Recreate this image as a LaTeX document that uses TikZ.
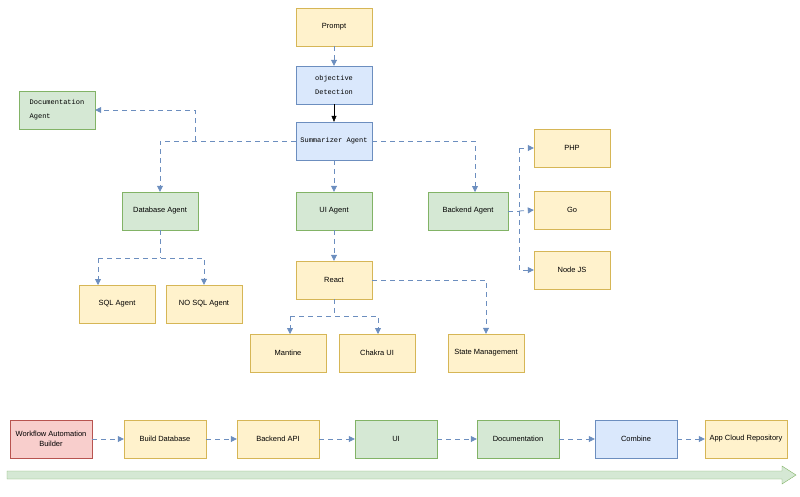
\documentclass[tikz,border=0pt]{standalone}
\usepackage{fontspec}
\setmainfont{Liberation Sans}
\setmonofont{Liberation Mono}
\usetikzlibrary{arrows.meta}
\definecolor{yf}{HTML}{FFF2CC}\definecolor{ys}{HTML}{D6B656}
\definecolor{bf}{HTML}{DAE8FC}\definecolor{bs}{HTML}{6C8EBF}
\definecolor{gf}{HTML}{D5E8D4}\definecolor{gs}{HTML}{82B366}
\definecolor{rf}{HTML}{F8CECC}\definecolor{rs}{HTML}{B85450}
\tikzset{
 box/.style={draw, minimum width=76pt, minimum height=38pt, inner sep=1pt, font=\fontsize{7.5}{9.5}\selectfont, align=center},
 Y/.style={box, fill=yf, draw=ys}, B/.style={box, fill=bf, draw=bs},
 G/.style={box, fill=gf, draw=gs}, R/.style={box, fill=rf, draw=rs},
 mono/.style={font=\ttfamily\fontsize{7}{14}\selectfont},
 da/.style={draw=bs, thick, dash pattern=on 5pt off 4pt, -{Triangle[length=6pt,width=6pt]}},
 dl/.style={draw=bs, thick, dash pattern=on 5pt off 4pt}
}
\begin{document}
\begin{tikzpicture}[x=1pt,y=-1pt]
\useasboundingbox (0,0) rectangle (800,496);
\node[Y] (prompt) at (334,27) {Prompt};
\node[B,mono] (obj) at (334,85) {objective\\Detection};
\node[B,mono] (sum) at (334,141) {Summarizer Agent};
\node[G,mono,align=left] (doc) at (57,110) {Documentation\\Agent};
\node[G] (db) at (160,211) {Database Agent};
\node[G] (ui) at (334,211) {UI Agent};
\node[G, minimum width=80pt] (be) at (468,211) {Backend Agent};
\node[Y] (php) at (572,148) {PHP};
\node[Y] (go) at (572,210) {Go};
\node[Y] (node) at (572,270) {Node JS};
\node[Y] (react) at (334,280) {React};
\node[Y] (sql) at (117,304) {SQL Agent};
\node[Y] (nosql) at (204,304) {NO SQL Agent};
\node[Y] (man) at (288,353) {Mantine};
\node[Y] (cha) at (377,353) {Chakra UI};
\node[Y] (st) at (486,353) {State Management};
\draw[da] (prompt) -- (obj);
\draw[-{Triangle[length=6pt,width=5pt]}] (obj) -- (sum);
\draw[da] (sum.west) -| (db.north);
\draw[da] (195,141) |- (doc.east);
\draw[da] (sum.east) -| (475,192);
\draw[da] (sum) -- (ui);
\draw[da] (ui) -- (react);
\draw[dl] (db.south) -- (160,258);
\draw[da] (98,258) -- (204,258) -- (nosql.north);
\draw[da] (98,258) -- (98,285);
\draw[dl] (react.south) -- (334,316);
\draw[da] (290,316) -- (378,316) -- (378,334);
\draw[da] (290,316) -- (290,334);
\draw[da] (react.east) -| (st.north);
\draw[dl] (be.east) -- (519,211);
\draw[da] (519,148) -- (php.west);
\draw[da] (519,211) -- (go.west);
\draw[da] (519,148) |- (node.west);
\tikzset{bw/.style={minimum width=82pt}}
\node[R,bw] (w) at (51,439) {Workflow Automation\\Builder};
\node[Y,bw] (b1) at (165,439) {Build Database};
\node[Y,bw] (b2) at (278,439) {Backend API};
\node[G,bw] (b3) at (396,439) {UI};
\node[G,bw] (b4) at (518,439) {Documentation};
\node[B,bw] (b5) at (636,439) {Combine};
\node[Y,bw] (b6) at (746,439) {App Cloud Repository};
\draw[da] (w) -- (b1); \draw[da] (b1) -- (b2); \draw[da] (b2) -- (b3);
\draw[da] (b3) -- (b4); \draw[da] (b4) -- (b5); \draw[da] (b5) -- (b6);
\draw[draw=gs, fill=gf] (7,471) -- (782,471) -- (782,466) -- (796,475) -- (782,484) -- (782,479) -- (7,479) -- cycle;
\end{tikzpicture}
\end{document}
